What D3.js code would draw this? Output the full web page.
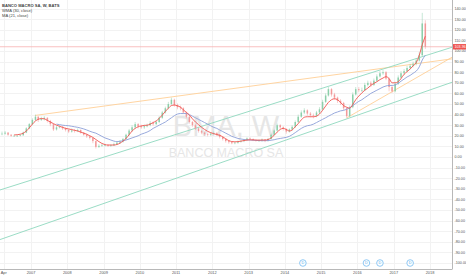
<!DOCTYPE html>
<html>
<head>
<meta charset="utf-8">
<script src="https://cdn.jsdelivr.net/npm/d3@7"></script>
<style>
body { margin: 0; background: #fff; }
text { font-family: "Liberation Sans", Arial, sans-serif; }
</style>
</head>
<body>
<svg id="main" width="466" height="275"></svg>
<script>
const width = 466;
const height = 275;
const plot = { right: 452.5, bottom: 269 };

// monthly candles, Mar 2006 .. Nov 2017 (open = previous close)
const startMonth = [2006, 2];
const closes = [
    22, 23, 21, 20, 20, 20, 20.5, 23, 27, 31,
    35, 38, 35, 36, 37, 34, 31, 26, 28, 28.5, 27, 25.5,
    24, 25, 24.5, 25.5, 23, 21, 19.5, 18, 15, 9.5, 10.5, 11,
    11, 10.5, 11, 12, 13.5, 14.5, 17, 21, 25, 28, 31, 29,
    28, 29, 30, 32, 31, 33, 37, 42, 46, 50, 54, 49,
    47, 46, 42, 38, 33, 30, 27, 24.5, 23, 21.5, 21, 22,
    22.5, 21, 19, 17, 15, 14, 13, 13.5, 14.5, 15, 16, 17.5,
    17, 16, 15.5, 15.5, 16.5, 15.5, 17, 21, 25, 30, 28, 26.5,
    24, 26, 28.5, 33, 38, 42, 44, 41, 39.5, 39, 42, 45,
    52, 58, 64, 59, 56, 53, 51, 46, 38.5, 47, 59, 64,
    63, 63, 68, 70, 68, 72, 76, 79, 80, 74, 66, 62,
    69, 75, 79, 81, 84, 86, 88, 91, 96, 126, 104
];
const highs = [
    24, 24.5, 23.5, 21.5, 21, 21, 21.5, 24, 28, 32,
    36.5, 40, 38.5, 38, 38.5, 37.5, 35, 31.5, 29.5, 30, 29.5, 28,
    26.5, 27, 26.5, 27, 26, 23.5, 22, 20.5, 18.5, 15.5, 12, 12.5,
    12.5, 12, 12, 13.5, 15, 16, 18, 22, 26.5, 30, 33, 32,
    30.5, 30.5, 31.5, 34, 33.5, 34.5, 38.5, 43.5, 47.5, 52, 56, 55,
    50.5, 48.5, 47, 43, 39, 34, 31, 28, 25.5, 24, 23, 23.5,
    24, 23.5, 21.5, 19.5, 17.5, 15.5, 14.5, 14.5, 15.5, 16, 17, 18.5,
    18.5, 17.5, 16.5, 16.5, 17.5, 17, 18, 22, 26, 31.5, 31, 29,
    27, 27, 30, 34.5, 40, 44, 46, 45, 42.5, 41, 43.5, 47,
    54, 60, 66, 65, 60.5, 57, 54.5, 52, 47, 48.5, 61, 66,
    66, 65.5, 70, 72, 71.5, 74, 78, 81, 82, 81, 75, 67,
    71, 77, 81, 83, 86, 88, 90, 93, 99, 136, 129
];
const lows = [
    20.5, 21, 20, 19, 19, 19, 19.5, 20, 22.5, 26.5,
    30, 34, 33, 34, 34.5, 32.5, 29, 24.5, 25, 27, 25.5, 24,
    22.5, 23, 23, 23.5, 22, 20, 18, 16.5, 13, 8, 8.5, 9.5,
    10, 9.5, 9.5, 10.5, 11.5, 12.5, 13.5, 16.5, 20, 24, 26.5, 27,
    26.5, 26.5, 28, 29, 29.5, 30, 32, 36, 41, 45, 49, 47.5,
    45, 44, 40.5, 36.5, 31.5, 28.5, 25.5, 23, 21.5, 20, 19.5, 20,
    21, 20, 17.5, 15.5, 13.5, 12.5, 12, 12, 12.5, 13.5, 14, 15,
    16, 15, 14.5, 14.5, 14.5, 14, 14.5, 16.5, 20, 24, 26.5, 25,
    22, 23, 25, 27.5, 32, 37, 40.5, 39, 37.5, 36.5, 37.5, 40.5,
    44, 51, 57, 57, 54, 51, 49, 44, 37, 37.5, 46, 58,
    61, 61, 62, 66.5, 66, 67, 71, 75, 77.5, 72.5, 62, 60.5,
    61, 68, 74, 77.5, 80, 82.5, 84.5, 86.5, 90, 95, 102
];
// MA (21, close), same months (null = not drawn)
const ma21 = [
    null, null, null, null, 20.8, 21, 21.5, 22.5, 24.5, 27.5,
    31, 34, 35.5, 36.3, 36, 34.5, 33, 31.5, 30, 29, 28, 27,
    26.5, 25.8, 25.2, 24.5, 23.5, 22.5, 21.5, 20, 18.5, 16.5, 14.5, 12.8,
    11.7, 11.3, 11.3, 11.3, 11.8, 13, 15, 17.5, 21, 24.5, 27, 28.5,
    29.3, 29.8, 30, 31, 32.5, 34, 36.5, 39.5, 43, 46, 48.5, 49,
    48.3, 47, 44.5, 42, 39.6, 36, 33, 30.5, 28, 26, 24.2, 23,
    22, 21.2, 20.5, 19, 17.2, 15.5, 14.6, 14.3, 14.5, 15, 15.5, 16,
    16.2, 16.1, 16, 15.9, 16, 16, 16.5, 18, 20.5, 23.5, 26, 27,
    26, 24.5, 25.5, 28.5, 31.5, 35, 37.5, 38, 38, 38, 38.5, 40.5,
    44, 48, 51.5, 54, 55, 54, 51.5, 48.5, 47, 46, 49.5, 54,
    57.5, 60.5, 63, 65, 67.5, 69.5, 71, 73, 74.5, 75.8, 74, 70,
    70, 71, 74, 78, 80.5, 83, 86, 89, 96, 106, 114
];
// WMA (30, close)
const wma30 = [
    null, null, null, null, null, null, null, null, null, null,
    null, null, null, null, null, null, null, null, 31, 30.5, 30, 29.7,
    29.5, 29, 28.5, 28, 27.3, 26.5, 25.5, 24.3, 23.3, 22.5, 21, 19.5,
    18, 17, 16, 15, 14.5, 14.8, 15.3, 16, 17, 18, 19, 20,
    21.5, 22.5, 23.5, 25, 27, 28.5, 30, 31.5, 33, 35, 37, 39,
    40.5, 41, 41, 41, 40, 38.5, 37, 35.5, 34, 32.5, 31, 29.5,
    28, 27, 25.5, 24, 22.5, 21, 19.5, 18.5, 17.5, 17, 16.5, 16.2,
    16, 15.8, 15.6, 15.5, 15.4, 15.4, 15.5, 15.8, 16.3, 17, 17.5, 18,
    18.5, 19.5, 21, 23, 25, 27, 28.5, 29.5, 30, 31, 32.5, 34,
    35.5, 37, 38.5, 40, 41.5, 42.5, 43.5, 44, 45, 46.5, 48.5, 50.5,
    52.5, 54, 56, 58, 60, 61.5, 63, 64.5, 66, 67, 67.5, 67.5,
    68, 69.5, 71.5, 73.5, 75.5, 77, 79, 81, 85, 91.5, 96
];

const lastPrice = 104;
const lastPriceLabel = '103.96';
const dividendDates = ['2014-07-01', '2016-04-01', '2016-08-15', '2017-06-15'];

const trendLines = [
    { from: ['2007-02-10', 39.2], to: ['2018-08-20', 92.7], color: '#ffcf96' },
    { from: ['2015-09-13', 36.8], to: ['2018-08-20', 94.6], color: '#ffcf96' },
    { from: ['2006-02-23', -31.1], to: ['2018-08-20', 103.8], color: '#8fd8be' },
    { from: ['2006-02-23', -77.9], to: ['2018-08-20', 70.8], color: '#8fd8be' }
];

const xTickDates = ['2006-04-01', '2007-01-01', '2008-01-01', '2009-01-01', '2010-01-01', '2011-01-01',
    '2012-01-01', '2013-01-01', '2014-01-01', '2015-01-01', '2016-01-01', '2017-01-01', '2018-01-01'];
const xTickLabels = ['Apr', '2007', '2008', '2009', '2010', '2011', '2012', '2013', '2014', '2015', '2016', '2017', '2018'];
const yTicks = d3.range(-100, 141, 10);

const parse = d3.timeParse('%Y-%m-%d');

const candles = closes.map((c, i) => ({
    date: new Date(startMonth[0], startMonth[1] + i, 15),
    open: i === 0 ? c : closes[i - 1],
    close: c,
    high: highs[i],
    low: lows[i],
    ma: ma21[i],
    wma: wma30[i]
}));

const xScale = d3.scaleTime()
    .domain([new Date(2007, 0, 1), new Date(2018, 0, 1)])
    .range([31, 430]);
const yScale = d3.scaleLinear()
    .domain([0, 140])
    .range([157, 8.6]);

const svg = d3.select('#main');
svg.append('rect').attr('width', width).attr('height', height).attr('fill', '#fff');

svg.append('defs').append('clipPath').attr('id', 'clip')
    .append('rect').attr('width', plot.right).attr('height', plot.bottom);

// grid
const grid = svg.append('g').attr('stroke', '#f2f2f2').attr('stroke-width', 1);
grid.selectAll('.vg').data(xTickDates).join('line')
    .attr('x1', d => Math.round(xScale(parse(d))) + 0.5)
    .attr('x2', d => Math.round(xScale(parse(d))) + 0.5)
    .attr('y1', 0).attr('y2', plot.bottom);
grid.selectAll('.hg').data(yTicks).join('line')
    .attr('x1', 0).attr('x2', plot.right)
    .attr('y1', d => Math.round(yScale(d)) + 0.5)
    .attr('y2', d => Math.round(yScale(d)) + 0.5);

// watermark
svg.append('text').text('BMA, W')
    .attr('x', 226).attr('y', 136)
    .attr('text-anchor', 'middle')
    .attr('font-size', 29)
    .attr('fill', '#e6e6e6');
svg.append('text').text('BANCO MACRO SA')
    .attr('x', 226).attr('y', 157)
    .attr('text-anchor', 'middle')
    .attr('font-size', 12.5)
    .attr('fill', '#e6e6e6');

const chart = svg.append('g').attr('clip-path', 'url(#clip)');

// last price line
chart.append('line')
    .attr('x1', 0).attr('x2', plot.right)
    .attr('y1', yScale(lastPrice)).attr('y2', yScale(lastPrice))
    .attr('stroke', '#f7b0b0').attr('stroke-width', 0.8);

// trend lines
trendLines.forEach(t => {
    chart.append('line')
        .attr('x1', xScale(parse(t.from[0]))).attr('y1', yScale(t.from[1]))
        .attr('x2', xScale(parse(t.to[0]))).attr('y2', yScale(t.to[1]))
        .attr('stroke', t.color).attr('stroke-width', 0.9);
});

// candles
const up = '#8ccfaa';
const down = '#f29a9a';
chart.selectAll('.wick').data(candles).join('line')
    .attr('x1', d => xScale(d.date)).attr('x2', d => xScale(d.date))
    .attr('y1', d => yScale(d.high)).attr('y2', d => yScale(d.low))
    .attr('stroke', d => d.close >= d.open ? up : down)
    .attr('stroke-width', 0.5);
chart.selectAll('.body').data(candles).join('rect')
    .attr('x', d => xScale(d.date) - 0.75)
    .attr('width', 1.5)
    .attr('y', d => yScale(Math.max(d.open, d.close)))
    .attr('height', d => Math.max(0.6, Math.abs(yScale(d.open) - yScale(d.close))))
    .attr('fill', d => d.close >= d.open ? up : down);

// moving averages
const wmaLine = d3.line()
    .defined(d => d.wma != null)
    .x(d => xScale(d.date)).y(d => yScale(d.wma))
    .curve(d3.curveMonotoneX);
const maLine = d3.line()
    .defined(d => d.ma != null)
    .x(d => xScale(d.date)).y(d => yScale(d.ma))
    .curve(d3.curveMonotoneX);
chart.append('path').attr('d', wmaLine(candles))
    .attr('fill', 'none').attr('stroke', '#8c9fd8').attr('stroke-width', 0.9);
chart.append('path').attr('d', maLine(candles))
    .attr('fill', 'none').attr('stroke', '#f0544f').attr('stroke-width', 0.9);

// dividend markers
const divs = svg.selectAll('.div').data(dividendDates).join('g')
    .attr('transform', d => `translate(${xScale(parse(d))}, 263)`);
divs.append('circle').attr('r', 3.3)
    .attr('fill', '#fff').attr('stroke', '#8fc9f5').attr('stroke-width', 1);
divs.append('text').text('D')
    .attr('text-anchor', 'middle').attr('dy', '1.4')
    .attr('font-size', 3.8).attr('fill', '#5aaee8');

// axes
svg.append('line')
    .attr('x1', plot.right).attr('x2', plot.right)
    .attr('y1', 0).attr('y2', plot.bottom)
    .attr('stroke', '#b8b8b8').attr('stroke-width', 1);
svg.append('line')
    .attr('x1', 0).attr('x2', plot.right)
    .attr('y1', plot.bottom + 0.5).attr('y2', plot.bottom + 0.5)
    .attr('stroke', '#b8b8b8').attr('stroke-width', 1);

svg.selectAll('.ylab').data(yTicks).join('text')
    .text(d => d.toFixed(2))
    .attr('x', 454.5).attr('y', d => yScale(d) + 1.4)
    .attr('font-size', 3.7).attr('fill', '#555');

svg.selectAll('.xlab').data(xTickDates).join('text')
    .text((d, i) => xTickLabels[i])
    .attr('x', d => xScale(parse(d)))
    .attr('y', 274)
    .attr('text-anchor', 'middle')
    .attr('font-size', 3.9).attr('fill', '#555');

// last price tag
const tag = svg.append('g').attr('transform', `translate(${plot.right}, ${yScale(lastPrice)})`);
tag.append('rect').attr('x', 0.5).attr('y', -2.7).attr('width', 13).attr('height', 5.4)
    .attr('fill', '#ef5350');
tag.append('text').text(lastPriceLabel)
    .attr('x', 2).attr('y', 1.3)
    .attr('font-size', 3.7).attr('fill', '#fff');

// legend
const legend = [
    { t: 'BANCO MACRO SA, W, BATS', w: 'bold' },
    { t: 'WMA (30, close)', w: 'normal' },
    { t: 'MA (21, close)', w: 'normal' }
];
svg.selectAll('.leg').data(legend).join('text')
    .text(d => d.t)
    .attr('x', 2).attr('y', (d, i) => 6.5 + i * 5)
    .attr('font-size', 4.1)
    .attr('font-weight', d => d.w)
    .attr('fill', '#444');
</script>
</body>
</html>
